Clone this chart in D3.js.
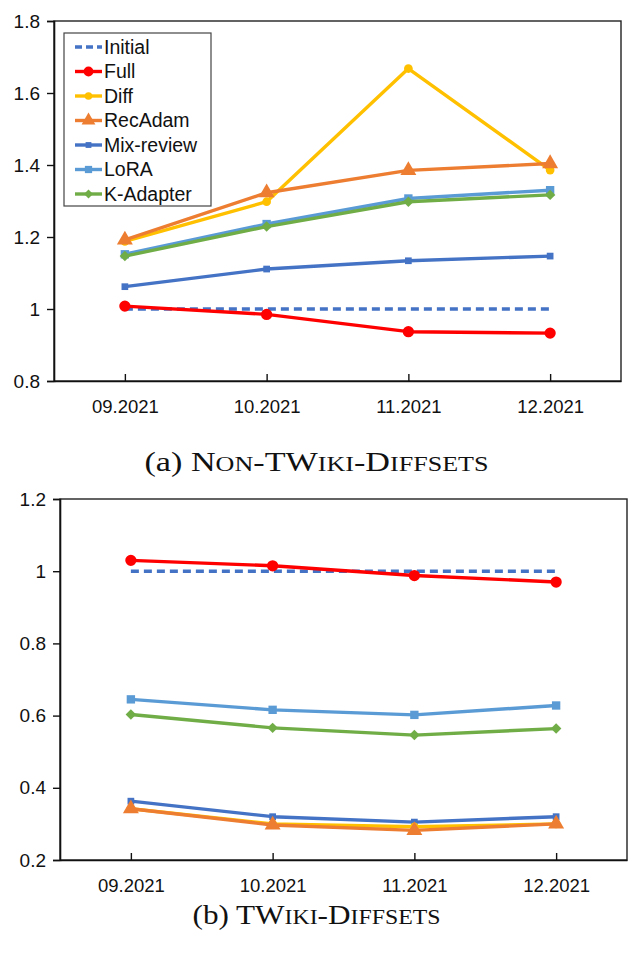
<!DOCTYPE html>
<html lang="en">
<head>
  <meta charset="UTF-8">
  <title>Forgetting charts</title>
  <script src="https://cdn.jsdelivr.net/npm/d3@7"></script>
  <style>
    body { margin: 0; background: #fff; }
    text { font-family: "Liberation Sans", Arial, Helvetica, sans-serif; fill: #111; }
    .caption text, text.caption { font-family: "Liberation Serif", "Times New Roman", serif; }
  </style>
</head>
<body>
  <svg id="chart"></svg>
  <script>
    const months = ["09.2021", "10.2021", "11.2021", "12.2021"];
    const seriesNames = ["Initial", "Full", "Diff", "RecAdam", "Mix-review", "LoRA", "K-Adapter"];

    // (a) Non-TWiki-Diffsets
    const nonInitial   = [1, 1, 1, 1];
    const nonFull      = [1.008, 0.985, 0.937, 0.933];
    const nonDiff      = [1.188, 1.298, 1.668, 1.386];
    const nonRecAdam   = [1.192, 1.323, 1.385, 1.404];
    const nonMixReview = [1.062, 1.111, 1.134, 1.147];
    const nonLoRA      = [1.152, 1.236, 1.307, 1.330];
    const nonKAdapter  = [1.147, 1.229, 1.298, 1.317];
    const nonTicks = [0.8, 1, 1.2, 1.4, 1.6, 1.8];

    // (b) TWiki-Diffsets
    const twInitial   = [1, 1, 1, 1];
    const twFull      = [1.030, 1.015, 0.988, 0.970];
    const twDiff      = [0.342, 0.300, 0.292, 0.300];
    const twRecAdam   = [0.342, 0.297, 0.282, 0.300];
    const twMixReview = [0.363, 0.320, 0.305, 0.320];
    const twLoRA      = [0.645, 0.616, 0.602, 0.628];
    const twKAdapter  = [0.603, 0.566, 0.546, 0.564];
    const twTicks = [0.2, 0.4, 0.6, 0.8, 1, 1.2];

    const style = {
      "Initial":    {color: "#4472C4", symbol: null, size: 0, dash: "8,5"},
      "Full":       {color: "#FF0000", symbol: d3.symbolCircle, size: 100},
      "Diff":       {color: "#FFC000", symbol: d3.symbolCircle, size: 60},
      "RecAdam":    {color: "#ED7D31", symbol: d3.symbolTriangle, size: 110},
      "Mix-review": {color: "#4472C4", symbol: d3.symbolSquare, size: 45},
      "LoRA":       {color: "#5B9BD5", symbol: d3.symbolSquare, size: 70},
      "K-Adapter":  {color: "#70AD47", symbol: d3.symbolDiamond2, size: 70}
    };

    const W = 633, H = 953;
    const svg = d3.select("#chart").attr("width", W).attr("height", H);

    function draw(g, box, yTicks, series, drawOrder, legend) {
      const x = d3.scalePoint().domain(months).range([box.left, box.right]).padding(0.5);
      const y = d3.scaleLinear().domain(d3.extent(yTicks)).range([box.bottom, box.top]);

      // plot frame
      g.append("rect")
        .attr("x", box.left).attr("y", box.top)
        .attr("width", box.right - box.left).attr("height", box.bottom - box.top)
        .attr("fill", "none").attr("stroke", "#222").attr("stroke-width", 1.4);

      const yAxis = d3.axisLeft(y).tickValues(yTicks).tickSize(7).tickPadding(7)
        .tickFormat(d => d === 1 ? "1" : d3.format(".1f")(d));
      g.append("g").attr("transform", `translate(${box.left},0)`).call(yAxis)
        .call(a => a.select(".domain").attr("stroke", "#111").attr("stroke-width", 1.6))
        .call(a => a.selectAll(".tick line").attr("stroke", "#111").attr("stroke-width", 1.4))
        .call(a => a.selectAll("text").attr("font-size", 19).attr("font-family", null).attr("fill", "#111"));

      const xAxis = d3.axisBottom(x).tickSizeInner(-7).tickSizeOuter(0).tickPadding(19);
      g.append("g").attr("transform", `translate(0,${box.bottom})`).call(xAxis)
        .call(a => a.select(".domain").attr("stroke", "#111").attr("stroke-width", 1.6))
        .call(a => a.selectAll(".tick line").attr("stroke", "#111").attr("stroke-width", 1.4))
        .call(a => a.selectAll("text").attr("font-size", 18.5).attr("font-family", null).attr("fill", "#111"));

      const line = d3.line().x((d, i) => x(months[i])).y(d => y(d));

      drawOrder.forEach(name => {
        const s = style[name], vals = series[name];
        g.append("path").attr("d", line(vals))
          .attr("fill", "none").attr("stroke", s.color).attr("stroke-width", 3.4)
          .attr("stroke-linejoin", "round")
          .attr("stroke-dasharray", s.dash || null);
        if (s.symbol) {
          g.selectAll(null).data(vals).join("path")
            .attr("transform", (d, i) => `translate(${x(months[i])},${y(d)})`)
            .attr("d", d3.symbol(s.symbol, s.size))
            .attr("fill", s.color);
        }
      });

      if (legend) {
        const lg = g.append("g").attr("transform", `translate(${box.left + 10},${box.top + 12})`);
        lg.append("rect").attr("width", 147).attr("height", 173)
          .attr("fill", "#fff").attr("stroke", "#444").attr("stroke-width", 1.2);
        seriesNames.forEach((name, i) => {
          const s = style[name], cy = 14 + i * 24.5;
          lg.append("line").attr("x1", 11).attr("x2", 38).attr("y1", cy).attr("y2", cy)
            .attr("stroke", s.color).attr("stroke-width", 3.4)
            .attr("stroke-dasharray", s.dash ? "7,4" : null);
          if (s.symbol) {
            lg.append("path").attr("transform", `translate(24.5,${cy})`)
              .attr("d", d3.symbol(s.symbol, s.size * 0.75)).attr("fill", s.color);
          }
          lg.append("text").attr("x", 40).attr("y", cy).attr("dy", "0.35em")
            .attr("font-size", 19.5).text(name);
        });
      }
    }

    function caption(label, parts, cy, width) {
      const t = svg.append("text").attr("class", "caption")
        .attr("x", W / 2).attr("y", cy).attr("dy", "0.35em")
        .attr("text-anchor", "middle").attr("font-size", 27.5)
        .attr("textLength", width).attr("lengthAdjust", "spacingAndGlyphs");
      t.append("tspan").text(label);
      parts.forEach(p => t.append("tspan").attr("font-size", p[1] ? 27.5 : 21).text(p[0]));
    }

    svg.append("g").call(draw, {left: 54, right: 621, top: 21, bottom: 381}, nonTicks, {
      "Initial": nonInitial, "Full": nonFull, "Diff": nonDiff, "RecAdam": nonRecAdam,
      "Mix-review": nonMixReview, "LoRA": nonLoRA, "K-Adapter": nonKAdapter
    }, ["Initial", "Mix-review", "LoRA", "K-Adapter", "Diff", "RecAdam", "Full"], true);

    svg.append("g").call(draw, {left: 60, right: 627, top: 499, bottom: 860}, twTicks, {
      "Initial": twInitial, "Full": twFull, "Diff": twDiff, "RecAdam": twRecAdam,
      "Mix-review": twMixReview, "LoRA": twLoRA, "K-Adapter": twKAdapter
    }, ["Initial", "LoRA", "K-Adapter", "Mix-review", "Diff", "RecAdam", "Full"], false);

    caption("(a) ", [["N", true], ["ON", false], ["-TW", true], ["IKI", false], ["-D", true], ["IFFSETS", false]], 461, 344);
    caption("(b) ", [["TW", true], ["IKI", false], ["-D", true], ["IFFSETS", false]], 914, 248);
  </script>
</body>
</html>
